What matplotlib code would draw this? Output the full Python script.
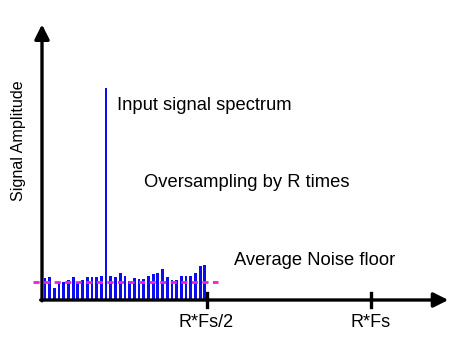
import numpy as np
import matplotlib
matplotlib.use("Agg")
import matplotlib.pyplot as plt

plt.rcParams["font.family"] = ["Liberation Sans", "DejaVu Sans"]

# spectrum bins (normalised frequency, R*Fs = 1)
bin_freq = np.linspace(0.009, 0.495, 35)
bin_amp = [0.104, 0.108, 0.057, 0.085, 0.085, 0.094, 0.108, 0.085, 0.094, 0.108,
           0.108, 0.108, 0.113, 1.0, 0.113, 0.108, 0.127, 0.113, 0.090, 0.104,
           0.099, 0.099, 0.113, 0.123, 0.127, 0.146, 0.108, 0.094, 0.094, 0.113,
           0.113, 0.113, 0.127, 0.160, 0.165]
noise_floor = 0.085
tick_pos = [0.5, 1.0]
tick_labels = ["R*Fs/2", "R*Fs"]

fig = plt.figure(figsize=(4.74, 3.56), dpi=100)
ax = fig.add_axes([0, 0, 1, 1])
ax.set_xlim(-42 / 329, 432 / 329)
ax.set_ylim(-56 / 212, 300 / 212)
ax.axis("off")

# bars
ax.bar(bin_freq, bin_amp, width=0.0085, color="#0c0cf0", zorder=2)

# average noise floor
ax.plot([-0.028, 0.535], [noise_floor, noise_floor], color="#ee20d8", lw=2,
        dashes=(2.2, 1.6), zorder=3)

# axes with arrows
arrow = dict(arrowstyle="-|>", lw=2.4, color="black", mutation_scale=22,
             shrinkA=0, shrinkB=0)
ax.annotate("", xy=(1.235, 0), xytext=(-0.004, 0), arrowprops=arrow, zorder=4)
ax.annotate("", xy=(0, 1.30), xytext=(0, -0.004), arrowprops=arrow, zorder=4)

for pos, lab in zip(tick_pos, tick_labels):
    ax.plot([pos, pos], [-0.031, 0.031], color="black", lw=2.4, zorder=4)
    ax.text(pos, -0.127, lab, ha="center", va="baseline", fontsize=13)

ax.text(0.228, 0.896, "Input signal spectrum", ha="left", va="baseline", fontsize=13.2)
ax.text(0.310, 0.533, "Oversampling by R times", ha="left", va="baseline", fontsize=13.2)
ax.text(0.584, 0.165, "Average Noise floor", ha="left", va="baseline", fontsize=13.2)
ax.text(-0.070, 0.75, "Signal Amplitude", ha="center", va="center",
        rotation=90, fontsize=11.6)

fig.savefig("out.png", dpi=100)
